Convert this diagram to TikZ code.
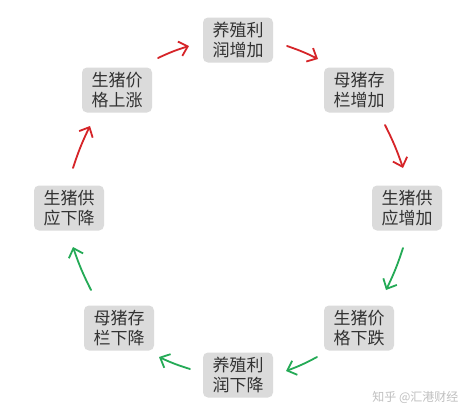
\documentclass[tikz,border=0pt]{standalone}
\usepackage{fontspec}
\setmainfont{Noto Sans CJK SC}
\usetikzlibrary{arrows.meta}
\usetikzlibrary{positioning}

\definecolor{boxgray}{RGB}{219,219,219}
\definecolor{txtgray}{RGB}{50,50,50}
\definecolor{upred}{RGB}{214,36,40}
\definecolor{downgreen}{RGB}{36,170,86}

\tikzset{
  stage/.style={fill=boxgray, rounded corners=5pt, minimum width=70pt, minimum height=45pt,
    inner sep=1pt, align=center, text=txtgray, font=\fontsize{17}{20.5}\selectfont},
  redarrow/.style={upred, line width=1.8pt, line cap=round, -{Straight Barb[length=8pt,width=15pt]}, bend left=4},
  greenarrow/.style={downgreen, line width=1.8pt, line cap=round, -{Straight Barb[length=8pt,width=15pt]}, bend left=4}
}

\begin{document}
\begin{tikzpicture}[x=1pt,y=-1pt]
\useasboundingbox[fill=white] (0,0) rectangle (474,418);

% upper half
\node [stage] (profitup)  at (238,40)  {养殖利\\润增加};
\node [stage] (sowup)     at (359,90)  {母猪存\\栏增加};
\node [stage] (supplyup)  at (407,208) {生猪供\\应增加};
\node [stage] (pricedown) at (359,328) {生猪价\\格下跌};
% lower half
\node [stage] (profitdown) at (238,375) {养殖利\\润下降};
\node [stage] (sowdown)    at (119,328) {母猪存\\栏下降};
\node [stage] (supplydown) at (69,208)  {生猪供\\应下降};
\node [stage] (priceup)    at (117,90)  {生猪价\\格上涨};

% arrow ends
\coordinate (a1) at (158,58);  \coordinate (b1) at (189,46);
\coordinate (a2) at (287,46);  \coordinate (b2) at (318,59);
\coordinate (a3) at (385,125); \coordinate (b3) at (403,168);
\coordinate (a4) at (403,248); \coordinate (b4) at (386,290);
\coordinate (a5) at (317,357); \coordinate (b5) at (286,371);
\coordinate (a6) at (190,369); \coordinate (b6) at (159,357);
\coordinate (a7) at (91,290);  \coordinate (b7) at (73,247);
\coordinate (a8) at (73,168);  \coordinate (b8) at (90,126);

% rising
\draw [redarrow] (a1) to (b1);
\draw [redarrow] (a2) to (b2);
\draw [redarrow] (a3) to (b3);
\draw [redarrow] (a8) to (b8);
% falling
\draw [greenarrow] (a4) to (b4);
\draw [greenarrow] (a5) to (b5);
\draw [greenarrow] (a6) to (b6);
\draw [greenarrow] (a7) to (b7);

% watermark
\node [text=black!25, font=\fontsize{12}{14}\selectfont, anchor=east] (mark) at (462,397) {知乎 @汇港财经};

\end{tikzpicture}
\end{document}
